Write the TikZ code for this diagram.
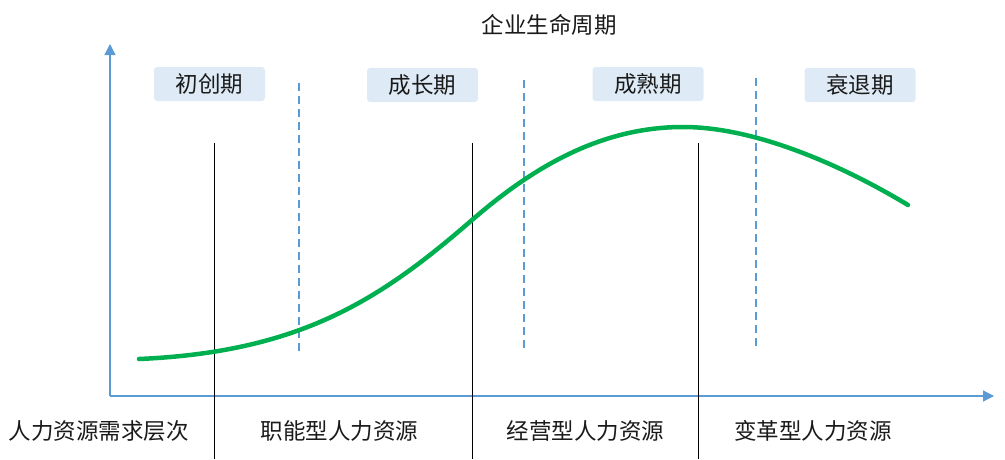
\documentclass[tikz,border=0pt]{standalone}
\usepackage{fontspec}
\setmainfont{Noto Sans CJK SC}
\usetikzlibrary{arrows.meta}
\definecolor{axisblue}{HTML}{5B9BD5}
\definecolor{boxfill}{HTML}{DEEBF7}
\definecolor{curvegreen}{HTML}{00B050}
\definecolor{txt}{HTML}{1A1A1A}
\tikzset{
  lbl/.style={font=\fontsize{22.5}{26}\selectfont, text=txt, inner sep=0pt},
  stagebox/.style={lbl, fill=boxfill, rounded corners=3pt, minimum width=111pt, minimum height=34pt},
  axisline/.style={axisblue, line width=1.3pt, -{Triangle[length=11pt,width=11pt]}},
  divider/.style={black, line width=1pt},
  dashdiv/.style={axisblue, line width=1.8pt, dash pattern=on 8pt off 5pt},
  lifecurve/.style={curvegreen, line width=4.5pt, line cap=round}
}
\begin{document}
\begin{tikzpicture}[x=1pt,y=-1pt]
\useasboundingbox (0,0) rectangle (1005,459);
% axes
\coordinate (o) at (110,396);
\coordinate (ytip) at (110,44);
\coordinate (xtip) at (994,396);
\draw[axisline] (o) -- (ytip);
\draw[axisline] (o) -- (xtip);
% title
\node[lbl] (title) at (549,25) {企业生命周期};
% stage boxes
\node[stagebox] (s1) at (209.5,84) {初创期};
\node[stagebox] (s2) at (422.5,85) {成长期};
\node[stagebox] (s3) at (648,84) {成熟期};
\node[stagebox] (s4) at (860,85) {衰退期};
% solid dividers
\foreach \n/\x in {a/214,b/472,c/698}{
  \coordinate (\n top) at (\x,143);
  \coordinate (\n bot) at (\x,459);
  \draw[divider] (\n top) -- (\n bot);
}
% dashed dividers
\coordinate (d1t) at (299,83);  \coordinate (d1b) at (299,353);
\coordinate (d2t) at (524,80);  \coordinate (d2b) at (524,349);
\coordinate (d3t) at (756,78);  \coordinate (d3b) at (756,347);
\draw[dashdiv] (d1t) -- (d1b);
\draw[dashdiv] (d2t) -- (d2b);
\draw[dashdiv] (d3t) -- (d3b);
% curve
\coordinate (c0) at (139,359);
\coordinate (c1) at (472,220);
\coordinate (c2) at (683,127);
\coordinate (c3) at (908,205);
\draw[lifecurve] (c0) .. controls (300,352) and (380,300) .. (c1)
  .. controls (532,168) and (600,127) .. (c2)
  .. controls (760,127) and (850,170) .. (c3);
% bottom labels
\node[lbl] (l0) at (99,431) {人力资源需求层次};
\node[lbl] (l1) at (339.5,431) {职能型人力资源};
\node[lbl] (l2) at (585.5,431) {经营型人力资源};
\node[lbl] (l3) at (813,431) {变革型人力资源};
\end{tikzpicture}
\end{document}
